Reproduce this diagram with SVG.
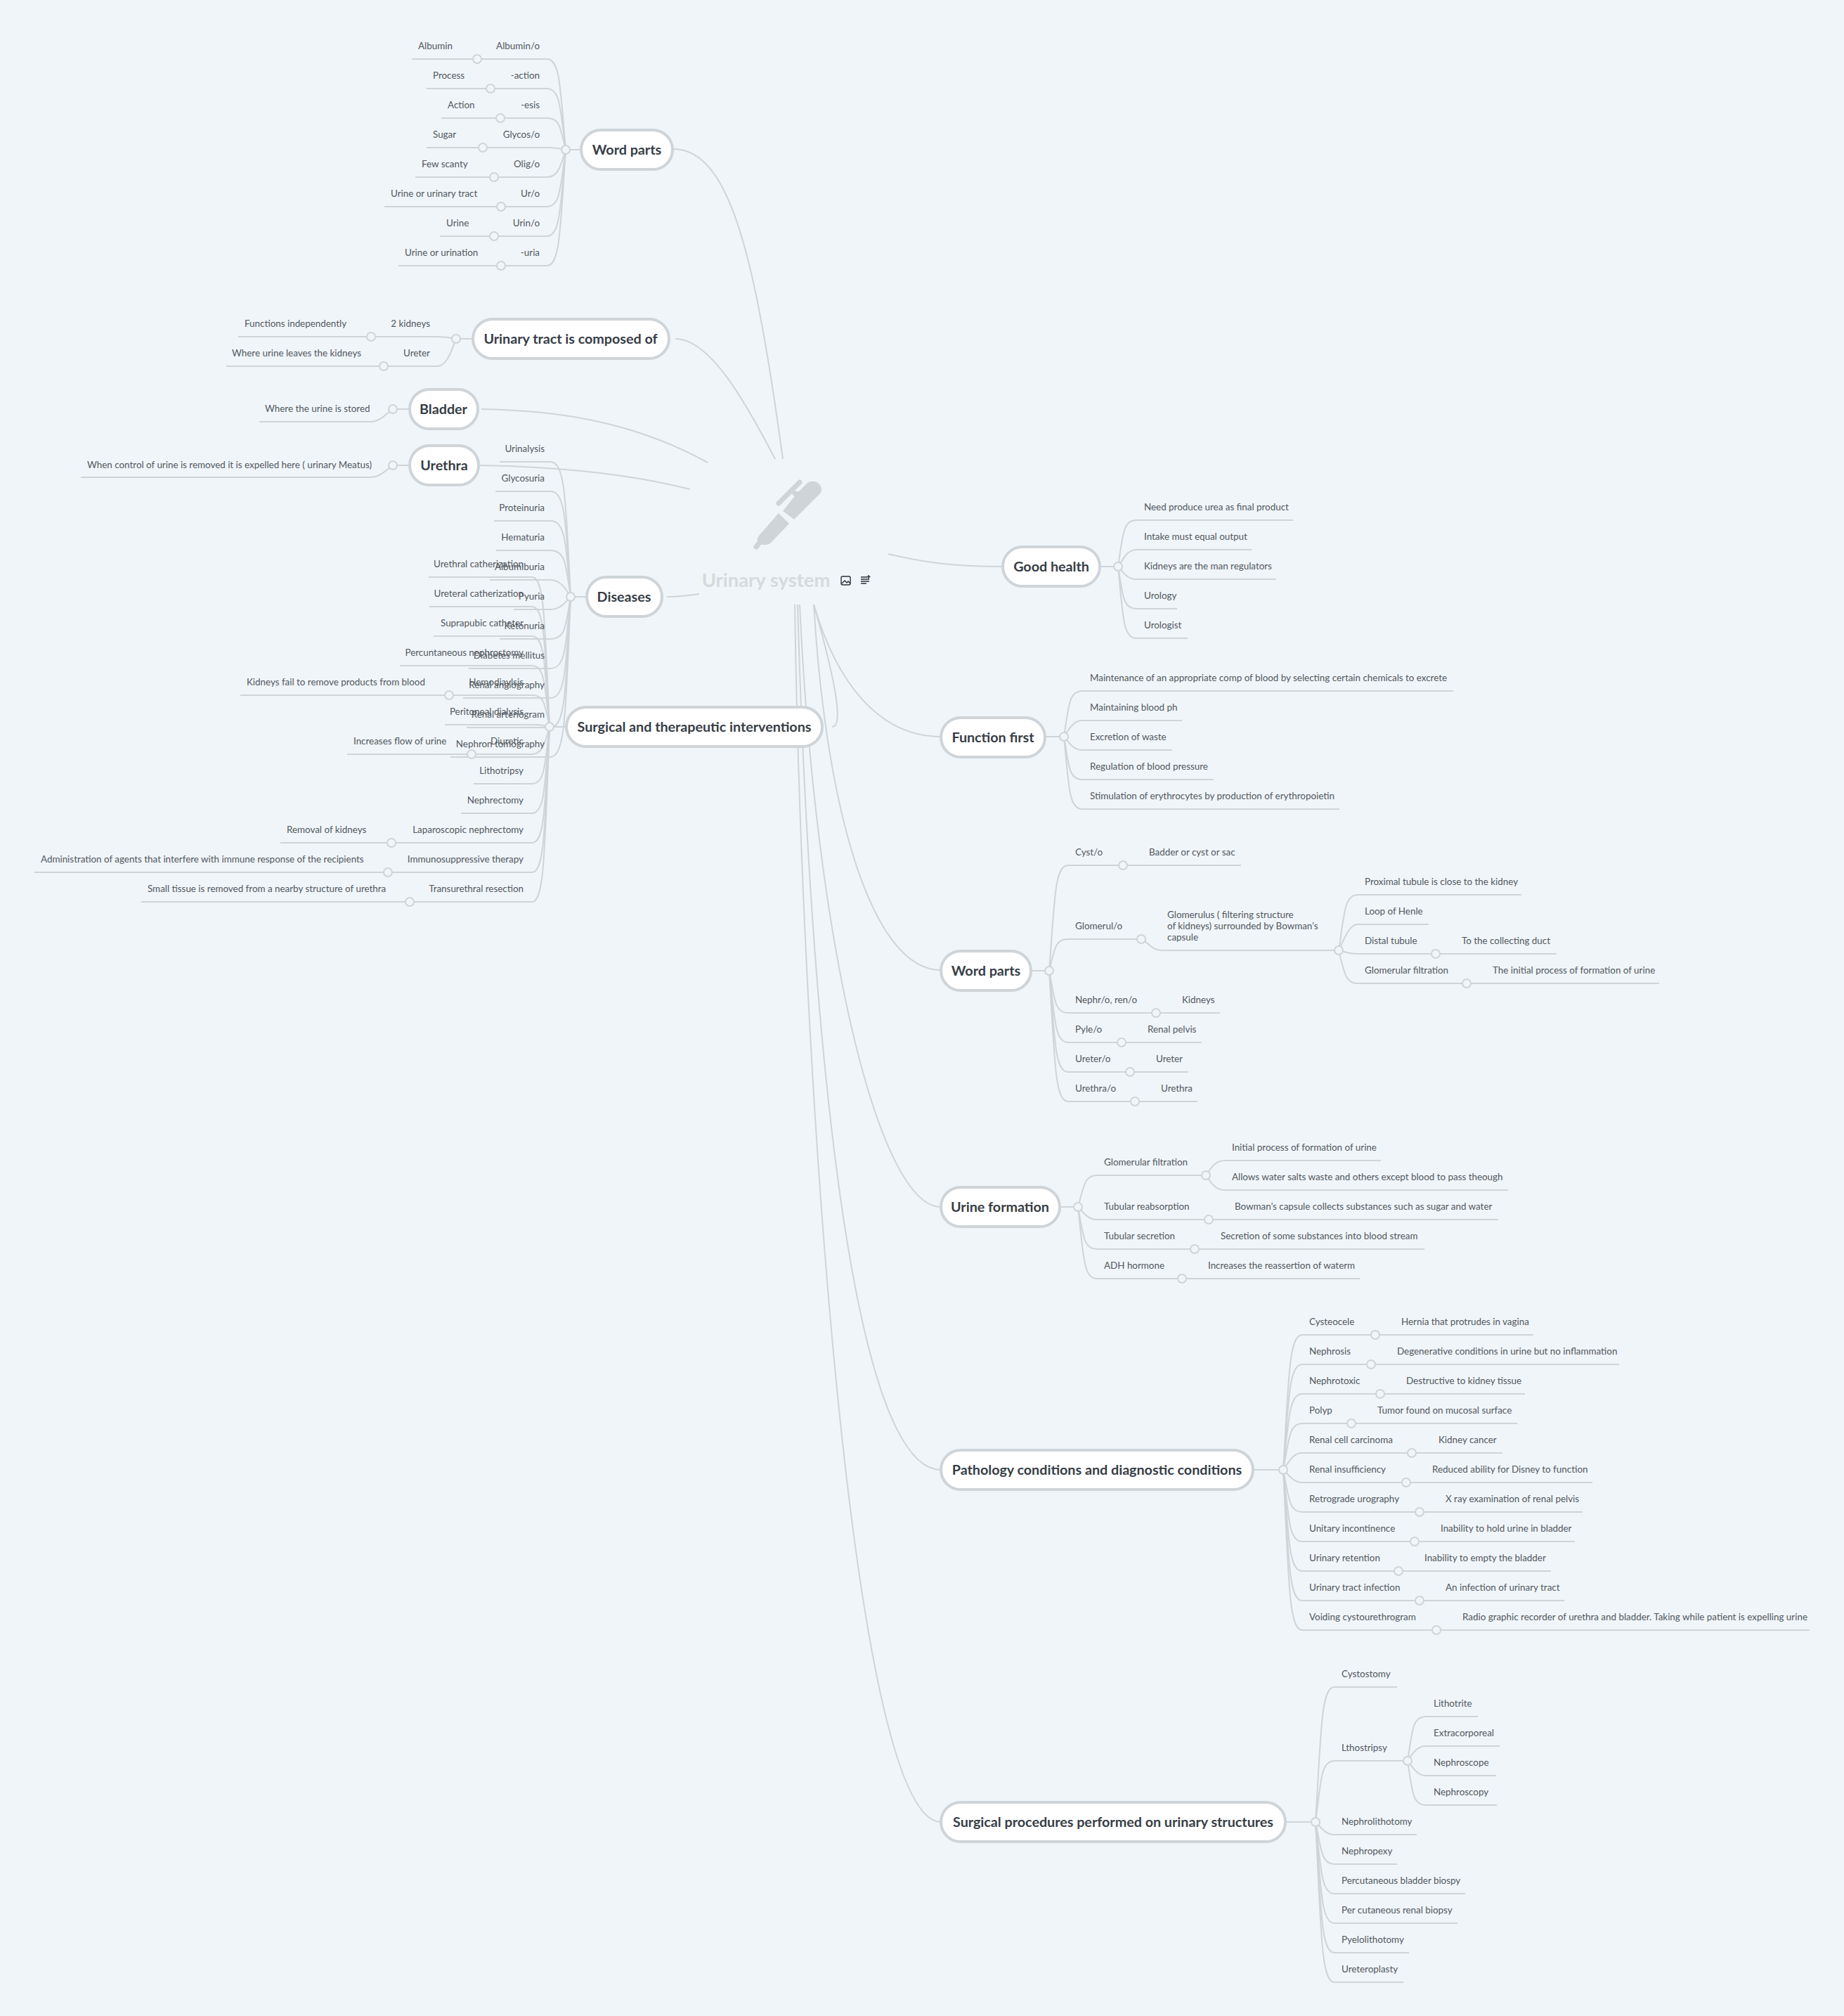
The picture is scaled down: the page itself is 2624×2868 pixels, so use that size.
<svg xmlns="http://www.w3.org/2000/svg" width="2624" height="2868" viewBox="0 0 2624 2868">
<style>
text{font-family:"Lato","Liberation Sans",sans-serif}
.t{font-size:13.4px;fill:#52585e}
.e{font-size:13.4px;fill:#52585e;text-anchor:end}
.n{font-size:19.7px;font-weight:700;fill:#363d45;text-anchor:middle}
.b{fill:#fff;stroke:#ced4d8;stroke-width:4}
.c path{fill:none;stroke:#ced4d8;stroke-width:2}
.c circle{fill:#f0f5f9;stroke:#ced4d8;stroke-width:2}
</style>
<rect width="2624" height="2868" fill="#f0f5f9"/>
<g id="connectors" class="c">
<!-- main branches -->
<path d="M958 212C1040 212 1075 370 1114 653"/>
<path d="M961 482C1010 482 1060 570 1103 653"/>
<path d="M685 582C820 584 920 610 1007 658"/>
<path d="M682 662C800 664 900 675 982 696"/>
<path d="M949 849C965 849 980 847 995 845"/>
<path d="M1184 1034C1198 1034 1195 990 1158 860"/>
<path d="M1264 788C1330 804 1380 806 1427 806"/>
<path d="M1158 860C1190 970 1250 1048 1339 1048"/>
<path d="M1158 860C1175 1150 1240 1380 1339 1380"/>
<path d="M1138 860C1160 1340 1250 1717 1339 1717"/>
<path d="M1135 860C1150 1400 1205 2091 1339 2091"/>
<path d="M1131 860C1140 1500 1210 2592 1339 2592"/>
<!-- stubs -->
<path d="M827 213H811"/><path d="M671 482H655"/><path d="M582 582H565"/><path d="M582 662H565"/><path d="M834 849H818"/><path d="M805 1034H788"/>
<path d="M1565 806H1585"/><path d="M1488 1048H1508"/><path d="M1467 1381H1487"/><path d="M1508 1717H1528"/><path d="M1784 2091H1820"/><path d="M1829 2592H1865"/>
<!-- left word parts -->
<path d="M805 213C797 123 797 84 778 84H586"/>
<path d="M805 213C797 152 797 126 778 126H607"/>
<path d="M805 213C797 181 797 168 778 168H628"/>
<path d="M805 213C797 211 790 210 778 210H607"/>
<path d="M805 213C797 240 793 252 778 252H591"/>
<path d="M805 213C797 270 797 294 778 294H547"/>
<path d="M805 213C797 299 797 336 778 336H626"/>
<path d="M805 213C797 328 797 378 778 378H567"/>
<!-- urinary tract -->
<path d="M649 482C640 480 632 479 622 479H339"/>
<path d="M649 482C642 500 636 521 622 521H322"/>
<path d="M559 582C548 590 540 600 528 600H369"/>
<path d="M559 662C548 670 540 679 528 679H115"/>
<!-- diseases -->
<path d="M812 849C805 715 805 657 783 657H711"/>
<path d="M812 849C805 744 805 699 783 699H705"/>
<path d="M812 849C805 773 805 741 783 741H703"/>
<path d="M812 849C805 803 805 783 783 783H706"/>
<path d="M812 849C805 838 798 825 783 825H697"/>
<path d="M812 849C805 856 798 867 783 867H731"/>
<path d="M812 849C805 891 805 909 783 909H711"/>
<path d="M812 849C805 920 805 951 783 951H667"/>
<path d="M812 849C805 950 805 993 783 993H659"/>
<path d="M812 849C805 979 805 1035 783 1035H664"/>
<path d="M812 849C805 1009 805 1077 783 1077H641"/>
<!-- surgical -->
<path d="M782 1034C775 885 775 821 757 821H610"/>
<path d="M782 1034C775 914 775 863 757 863H611"/>
<path d="M782 1034C775 944 775 905 757 905H617"/>
<path d="M782 1034C775 973 775 947 757 947H569"/>
<path d="M782 1034C775 1002 775 989 757 989H342"/>
<path d="M782 1034C775 1032 768 1031 757 1031H633"/>
<path d="M782 1034C775 1061 770 1073 757 1073H494"/>
<path d="M782 1034C775 1091 775 1115 757 1115H674"/>
<path d="M782 1034C775 1120 775 1157 757 1157H656"/>
<path d="M782 1034C775 1150 775 1199 757 1199H399"/>
<path d="M782 1034C775 1179 775 1241 757 1241H49"/>
<path d="M782 1034C775 1208 775 1283 757 1283H201"/>
<!-- good health -->
<path d="M1591 806C1598 760 1598 740 1617 740H1840"/>
<path d="M1591 806C1598 796 1604 782 1617 782H1781"/>
<path d="M1591 806C1598 814 1604 824 1617 824H1816"/>
<path d="M1591 806C1598 848 1598 866 1617 866H1675"/>
<path d="M1591 806C1598 877 1598 908 1617 908H1690"/>
<!-- function first -->
<path d="M1514 1048C1521 1003 1521 983 1540 983H2068"/>
<path d="M1514 1048C1521 1038 1527 1025 1540 1025H1682"/>
<path d="M1514 1048C1521 1056 1527 1067 1540 1067H1668"/>
<path d="M1514 1048C1521 1090 1521 1109 1540 1109H1727"/>
<path d="M1514 1048C1521 1120 1521 1151 1540 1151H1906"/>
<!-- word parts right -->
<path d="M1493 1381C1501 1276 1501 1231 1520 1231H1766"/>
<path d="M1493 1381C1501 1350 1501 1336 1520 1336H1624C1633 1340 1640 1352 1652 1352H1905"/>
<path d="M1493 1381C1501 1423 1501 1441 1520 1441H1736"/>
<path d="M1493 1381C1501 1451 1501 1483 1520 1483H1710"/>
<path d="M1493 1381C1501 1480 1501 1525 1520 1525H1691"/>
<path d="M1493 1381C1501 1511 1501 1567 1520 1567H1704"/>
<path d="M1905 1352C1913 1300 1913 1273 1932 1273H2165"/>
<path d="M1905 1352C1913 1335 1920 1315 1932 1315H2033"/>
<path d="M1905 1352C1913 1354 1920 1357 1932 1357H2215"/>
<path d="M1905 1352C1913 1385 1915 1399 1932 1399H2361"/>
<!-- urine formation -->
<path d="M1534 1717C1542 1690 1542 1672 1561 1672H1716"/>
<path d="M1534 1717C1542 1725 1548 1735 1561 1735H2132"/>
<path d="M1534 1717C1542 1760 1542 1777 1561 1777H2027"/>
<path d="M1534 1717C1542 1790 1542 1819 1561 1819H1935"/>
<path d="M1716 1672C1724 1660 1730 1651 1743 1651H1965"/>
<path d="M1716 1672C1724 1684 1730 1693 1743 1693H2146"/>
<!-- pathology -->
<path d="M1826 2091C1834 1960 1834 1899 1853 1899H2182"/>
<path d="M1826 2091C1834 1990 1834 1941 1853 1941H2304"/>
<path d="M1826 2091C1834 2020 1834 1983 1853 1983H2170"/>
<path d="M1826 2091C1834 2050 1834 2025 1853 2025H2159"/>
<path d="M1826 2091C1834 2080 1840 2067 1853 2067H2138"/>
<path d="M1826 2091C1834 2098 1840 2109 1853 2109H2266"/>
<path d="M1826 2091C1834 2130 1834 2151 1853 2151H2252"/>
<path d="M1826 2091C1834 2160 1834 2193 1853 2193H2241"/>
<path d="M1826 2091C1834 2190 1834 2235 1853 2235H2207"/>
<path d="M1826 2091C1834 2220 1834 2277 1853 2277H2226"/>
<path d="M1826 2091C1834 2250 1834 2319 1853 2319H2575"/>
<!-- surgical procedures -->
<path d="M1872 2592C1880 2460 1880 2400 1899 2400H1988"/>
<path d="M1872 2592C1880 2530 1880 2505 1899 2505H2003"/>
<path d="M1872 2592C1880 2600 1886 2610 1899 2610H2016"/>
<path d="M1872 2592C1880 2630 1880 2652 1899 2652H1988"/>
<path d="M1872 2592C1880 2660 1880 2694 1899 2694H2085"/>
<path d="M1872 2592C1880 2690 1880 2736 1899 2736H2074"/>
<path d="M1872 2592C1880 2720 1880 2778 1899 2778H2005"/>
<path d="M1872 2592C1880 2750 1880 2820 1899 2820H1997"/>
<path d="M2003 2505C2010 2460 2010 2442 2029 2442H2103"/>
<path d="M2003 2505C2010 2495 2016 2484 2029 2484H2134"/>
<path d="M2003 2505C2010 2513 2016 2526 2029 2526H2129"/>
<path d="M2003 2505C2010 2550 2010 2568 2029 2568H2130"/>
<!-- hubs -->
<circle cx="805" cy="213" r="6"/><circle cx="649" cy="482" r="6"/><circle cx="559" cy="582" r="6"/><circle cx="559" cy="662" r="6"/><circle cx="812" cy="849" r="6"/><circle cx="782" cy="1034" r="6"/>
<circle cx="1591" cy="806" r="6"/><circle cx="1514" cy="1048" r="6"/><circle cx="1493" cy="1381" r="6"/><circle cx="1905" cy="1352" r="6"/><circle cx="1534" cy="1717" r="6"/><circle cx="1716" cy="1672" r="6"/><circle cx="1826" cy="2091" r="6"/><circle cx="1872" cy="2592" r="6"/><circle cx="2003" cy="2505" r="6"/>
<!-- collapse dots -->
<circle cx="679" cy="84" r="6"/><circle cx="698" cy="126" r="6"/><circle cx="712" cy="168" r="6"/><circle cx="687" cy="210" r="6"/><circle cx="703" cy="252" r="6"/><circle cx="713" cy="294" r="6"/><circle cx="703" cy="336" r="6"/><circle cx="713" cy="378" r="6"/>
<circle cx="528" cy="479" r="6"/><circle cx="546" cy="521" r="6"/>
<circle cx="639" cy="989" r="6"/><circle cx="671" cy="1073" r="6"/><circle cx="557" cy="1199" r="6"/><circle cx="552" cy="1241" r="6"/><circle cx="583" cy="1283" r="6"/>
<circle cx="1598" cy="1231" r="6"/><circle cx="1624" cy="1336" r="6"/><circle cx="1645" cy="1441" r="6"/><circle cx="1596" cy="1483" r="6"/><circle cx="1608" cy="1525" r="6"/><circle cx="1615" cy="1567" r="6"/>
<circle cx="2043" cy="1357" r="6"/><circle cx="2087" cy="1399" r="6"/>
<circle cx="1720" cy="1735" r="6"/><circle cx="1700" cy="1777" r="6"/><circle cx="1682" cy="1819" r="6"/>
<circle cx="1957" cy="1899" r="6"/><circle cx="1951" cy="1941" r="6"/><circle cx="1964" cy="1983" r="6"/><circle cx="1923" cy="2025" r="6"/><circle cx="2009" cy="2067" r="6"/><circle cx="2001" cy="2109" r="6"/><circle cx="2020" cy="2151" r="6"/><circle cx="2013" cy="2193" r="6"/><circle cx="1990" cy="2235" r="6"/><circle cx="2020" cy="2277" r="6"/><circle cx="2044" cy="2319" r="6"/>
</g>
<g id="central">
<path d="M1146 690C1150 684 1160 683 1165 688C1170 693 1170 698 1167 702L1130 739L1114 727L1133 703Z" fill="#ced4d8"/>
<path d="M1123 745L1108 730L1080 762C1077 766 1077 770 1079 772C1083 776 1092 776 1096 773Z" fill="#ced4d8"/>
<path d="M1138 686L1108 716M1131 702L1140 704M1080 773L1076 778" fill="none" stroke="#ced4d8" stroke-width="7" stroke-linecap="round"/>
<text x="1090" y="835" font-size="27.4" font-weight="700" fill="#d5dadd" text-anchor="middle">Urinary system</text>
<g fill="none" stroke="#2c3138" stroke-width="1.4"><rect x="1197" y="820" width="13" height="12" rx="2"/><path d="M1198 830L1202 826L1205 829L1207 827L1210 830"/><path d="M1225 821H1234M1225 824H1237M1225 827H1237M1225 830H1233M1236 818V823M1233.500 820.500H1238.500"/></g>
</g>
<g id="node-word-parts-left"><rect class="b" x="827" y="185" width="130" height="56" rx="28"/><text class="n" x="892" y="220">Word parts</text></g>
<g id="node-urinary-tract"><rect class="b" x="673" y="454" width="279" height="56" rx="28"/><text class="n" x="812" y="489">Urinary tract is composed of</text></g>
<g id="node-bladder"><rect class="b" x="583" y="554" width="97" height="56" rx="28"/><text class="n" x="631" y="589">Bladder</text></g>
<g id="node-urethra"><rect class="b" x="583" y="634" width="98" height="56" rx="28"/><text class="n" x="632" y="669">Urethra</text></g>
<g id="node-diseases"><rect class="b" x="835" y="821" width="107" height="56" rx="28"/><text class="n" x="888" y="856">Diseases</text></g>
<g id="node-surgical"><rect class="b" x="806" y="1006" width="364" height="56" rx="28"/><text class="n" x="988" y="1041">Surgical and therapeutic interventions</text></g>
<g id="node-good-health"><rect class="b" x="1427" y="778" width="138" height="56" rx="28"/><text class="n" x="1496" y="813">Good health</text></g>
<g id="node-function-first"><rect class="b" x="1339" y="1021" width="148" height="56" rx="28"/><text class="n" x="1413" y="1056">Function first</text></g>
<g id="node-word-parts-right"><rect class="b" x="1339" y="1353" width="128" height="56" rx="28"/><text class="n" x="1403" y="1388">Word parts</text></g>
<g id="node-urine-formation"><rect class="b" x="1339" y="1689" width="169" height="56" rx="28"/><text class="n" x="1423" y="1724">Urine formation</text></g>
<g id="node-pathology"><rect class="b" x="1339" y="2063" width="444" height="56" rx="28"/><text class="n" x="1561" y="2098">Pathology conditions and diagnostic conditions</text></g>
<g id="node-surgical-procedures"><rect class="b" x="1339" y="2564" width="490" height="56" rx="28"/><text class="n" x="1584" y="2599">Surgical procedures performed on urinary structures</text></g>
<g id="left-word-parts-topics">
<g id="a1"><text class="e" x="768" y="70">Albumin/o</text></g><g id="a2"><text class="t" x="595" y="70">Albumin</text></g>
<g id="a3"><text class="e" x="768" y="112">-action</text></g><g id="a4"><text class="t" x="616" y="112">Process</text></g>
<g id="a5"><text class="e" x="768" y="154">-esis</text></g><g id="a6"><text class="t" x="637" y="154">Action</text></g>
<g id="a7"><text class="e" x="768" y="196">Glycos/o</text></g><g id="a8"><text class="t" x="616" y="196">Sugar</text></g>
<g id="a9"><text class="e" x="768" y="238">Olig/o</text></g><g id="a10"><text class="t" x="600" y="238">Few scanty</text></g>
<g id="a11"><text class="e" x="768" y="280">Ur/o</text></g><g id="a12"><text class="t" x="556" y="280">Urine or urinary tract</text></g>
<g id="a13"><text class="e" x="768" y="322">Urin/o</text></g><g id="a14"><text class="t" x="635" y="322">Urine</text></g>
<g id="a15"><text class="e" x="768" y="364">-uria</text></g><g id="a16"><text class="t" x="576" y="364">Urine or urination</text></g>
</g>
<g id="left-urinary-topics">
<g id="b1"><text class="e" x="612" y="465">2 kidneys</text></g><g id="b2"><text class="t" x="348" y="465">Functions independently</text></g>
<g id="b3"><text class="e" x="612" y="507">Ureter</text></g><g id="b4"><text class="t" x="330" y="507">Where urine leaves the kidneys</text></g>
<g id="b5"><text class="t" x="377" y="586">Where the urine is stored</text></g>
<g id="b6"><text class="t" x="124" y="666">When control of urine is removed it is expelled here ( urinary Meatus)</text></g>
</g>
<g id="diseases-topics">
<g id="c1"><text class="e" x="775" y="643">Urinalysis</text></g>
<g id="c2"><text class="e" x="775" y="685">Glycosuria</text></g>
<g id="c3"><text class="e" x="775" y="727">Proteinuria</text></g>
<g id="c4"><text class="e" x="775" y="769">Hematuria</text></g>
<g id="c5"><text class="e" x="775" y="811">Albumiburia</text></g>
<g id="c6"><text class="e" x="775" y="853">Pyuria</text></g>
<g id="c7"><text class="e" x="775" y="895">Ketonuria</text></g>
<g id="c8"><text class="e" x="775" y="937">Diabetes mellitus</text></g>
<g id="c9"><text class="e" x="775" y="979">Renal angiography</text></g>
<g id="c10"><text class="e" x="775" y="1021">Renal arteriogram</text></g>
<g id="c11"><text class="e" x="775" y="1063">Nephron tomography</text></g>
</g>
<g id="surgical-topics">
<g id="d1"><text class="e" x="745" y="807">Urethral catherization</text></g>
<g id="d2"><text class="e" x="745" y="849">Ureteral catherization</text></g>
<g id="d3"><text class="e" x="745" y="891">Suprapubic catheter</text></g>
<g id="d4"><text class="e" x="745" y="933">Percuntaneous nephrostomy</text></g>
<g id="d5"><text class="e" x="745" y="975">Hemodiaylsis</text></g><g id="d6"><text class="t" x="351" y="975">Kidneys fail to remove products from blood</text></g>
<g id="d7"><text class="e" x="745" y="1017">Peritoneal dialysis</text></g>
<g id="d8"><text class="e" x="745" y="1059">Diuretic</text></g><g id="d9"><text class="t" x="503" y="1059">Increases flow of urine</text></g>
<g id="d10"><text class="e" x="745" y="1101">Lithotripsy</text></g>
<g id="d11"><text class="e" x="745" y="1143">Nephrectomy</text></g>
<g id="d12"><text class="e" x="745" y="1185">Laparoscopic nephrectomy</text></g><g id="d13"><text class="t" x="408" y="1185">Removal of kidneys</text></g>
<g id="d14"><text class="e" x="745" y="1227">Immunosuppressive therapy</text></g><g id="d15"><text class="t" x="58" y="1227">Administration of agents that interfere with immune response of the recipients</text></g>
<g id="d16"><text class="e" x="745" y="1269">Transurethral resection</text></g><g id="d17"><text class="t" x="210" y="1269">Small tissue is removed from a nearby structure of urethra</text></g>
</g>
<g id="good-health-topics">
<g id="e1"><text class="t" x="1628" y="726">Need produce urea as final product</text></g>
<g id="e2"><text class="t" x="1628" y="768">Intake must equal output</text></g>
<g id="e3"><text class="t" x="1628" y="810">Kidneys are the man regulators</text></g>
<g id="e4"><text class="t" x="1628" y="852">Urology</text></g>
<g id="e5"><text class="t" x="1628" y="894">Urologist</text></g>
</g>
<g id="function-topics">
<g id="f1"><text class="t" x="1551" y="969">Maintenance of an appropriate comp of blood by selecting certain chemicals to excrete</text></g>
<g id="f2"><text class="t" x="1551" y="1011">Maintaining blood ph</text></g>
<g id="f3"><text class="t" x="1551" y="1053">Excretion of waste</text></g>
<g id="f4"><text class="t" x="1551" y="1095">Regulation of blood pressure</text></g>
<g id="f5"><text class="t" x="1551" y="1137">Stimulation of erythrocytes by production of erythropoietin</text></g>
</g>
<g id="word-parts-topics">
<g id="g1"><text class="t" x="1530" y="1217">Cyst/o</text></g><g id="g2"><text class="t" x="1635" y="1217">Badder or cyst or sac</text></g>
<g id="g3"><text class="t" x="1530" y="1322">Glomerul/o</text></g>
<g id="g4"><text class="t" x="1661" y="1306">Glomerulus ( filtering structure</text><text class="t" x="1661" y="1322">of kidneys) surrounded by  Bowman’s</text><text class="t" x="1661" y="1338">capsule</text></g>
<g id="g5"><text class="t" x="1530" y="1427">Nephr/o, ren/o</text></g><g id="g6"><text class="t" x="1682" y="1427">Kidneys</text></g>
<g id="g7"><text class="t" x="1530" y="1469">Pyle/o</text></g><g id="g8"><text class="t" x="1633" y="1469">Renal pelvis</text></g>
<g id="g9"><text class="t" x="1530" y="1511">Ureter/o</text></g><g id="g10"><text class="t" x="1645" y="1511">Ureter</text></g>
<g id="g11"><text class="t" x="1530" y="1553">Urethra/o</text></g><g id="g12"><text class="t" x="1652" y="1553">Urethra</text></g>
<g id="g13"><text class="t" x="1942" y="1259">Proximal tubule is close to the kidney</text></g>
<g id="g14"><text class="t" x="1942" y="1301">Loop of Henle</text></g>
<g id="g15"><text class="t" x="1942" y="1343">Distal tubule</text></g><g id="g16"><text class="t" x="2080" y="1343">To the collecting duct</text></g>
<g id="g17"><text class="t" x="1942" y="1385">Glomerular filtration</text></g><g id="g18"><text class="t" x="2124" y="1385">The initial process of formation of urine</text></g>
</g>
<g id="urine-topics">
<g id="h1"><text class="t" x="1571" y="1658">Glomerular filtration</text></g>
<g id="h2"><text class="t" x="1753" y="1637">Initial process of formation of urine</text></g>
<g id="h3"><text class="t" x="1753" y="1679">Allows water salts waste and others except blood to pass theough</text></g>
<g id="h4"><text class="t" x="1571" y="1721">Tubular reabsorption</text></g><g id="h5"><text class="t" x="1757" y="1721">Bowman’s capsule collects substances such as sugar and water</text></g>
<g id="h6"><text class="t" x="1571" y="1763">Tubular secretion</text></g><g id="h7"><text class="t" x="1737" y="1763">Secretion of some substances into blood stream</text></g>
<g id="h8"><text class="t" x="1571" y="1805">ADH hormone</text></g><g id="h9"><text class="t" x="1719" y="1805">Increases the reassertion of waterm</text></g>
</g>
<g id="pathology-topics">
<g id="i1"><text class="t" x="1863" y="1885">Cysteocele</text></g><g id="i2"><text class="t" x="1994" y="1885">Hernia that protrudes in vagina</text></g>
<g id="i3"><text class="t" x="1863" y="1927">Nephrosis</text></g><g id="i4"><text class="t" x="1988" y="1927">Degenerative conditions in urine but no inflammation</text></g>
<g id="i5"><text class="t" x="1863" y="1969">Nephrotoxic</text></g><g id="i6"><text class="t" x="2001" y="1969">Destructive to kidney tissue</text></g>
<g id="i7"><text class="t" x="1863" y="2011">Polyp</text></g><g id="i8"><text class="t" x="1960" y="2011">Tumor found on mucosal surface</text></g>
<g id="i9"><text class="t" x="1863" y="2053">Renal cell carcinoma</text></g><g id="i10"><text class="t" x="2047" y="2053">Kidney cancer</text></g>
<g id="i11"><text class="t" x="1863" y="2095">Renal insufficiency</text></g><g id="i12"><text class="t" x="2038" y="2095">Reduced ability for Disney to function</text></g>
<g id="i13"><text class="t" x="1863" y="2137">Retrograde urography</text></g><g id="i14"><text class="t" x="2057" y="2137">X ray examination of renal pelvis</text></g>
<g id="i15"><text class="t" x="1863" y="2179">Unitary incontinence</text></g><g id="i16"><text class="t" x="2050" y="2179">Inability to hold urine in bladder</text></g>
<g id="i17"><text class="t" x="1863" y="2221">Urinary retention</text></g><g id="i18"><text class="t" x="2027" y="2221">Inability to empty the bladder</text></g>
<g id="i19"><text class="t" x="1863" y="2263">Urinary tract infection</text></g><g id="i20"><text class="t" x="2057" y="2263">An infection of urinary tract</text></g>
<g id="i21"><text class="t" x="1863" y="2305">Voiding cystourethrogram</text></g><g id="i22"><text class="t" x="2081" y="2305">Radio graphic recorder of urethra and bladder. Taking while patient is expelling urine</text></g>
</g>
<g id="procedures-topics">
<g id="j1"><text class="t" x="1909" y="2386">Cystostomy</text></g>
<g id="j2"><text class="t" x="1909" y="2491">Lthostripsy</text></g>
<g id="j3"><text class="t" x="1909" y="2596">Nephrolithotomy</text></g>
<g id="j4"><text class="t" x="1909" y="2638">Nephropexy</text></g>
<g id="j5"><text class="t" x="1909" y="2680">Percutaneous bladder biospy</text></g>
<g id="j6"><text class="t" x="1909" y="2722">Per cutaneous renal biopsy</text></g>
<g id="j7"><text class="t" x="1909" y="2764">Pyelolithotomy</text></g>
<g id="j8"><text class="t" x="1909" y="2806">Ureteroplasty</text></g>
<g id="j9"><text class="t" x="2040" y="2428">Lithotrite</text></g>
<g id="j10"><text class="t" x="2040" y="2470">Extracorporeal</text></g>
<g id="j11"><text class="t" x="2040" y="2512">Nephroscope</text></g>
<g id="j12"><text class="t" x="2040" y="2554">Nephroscopy</text></g>
</g>
</svg>
